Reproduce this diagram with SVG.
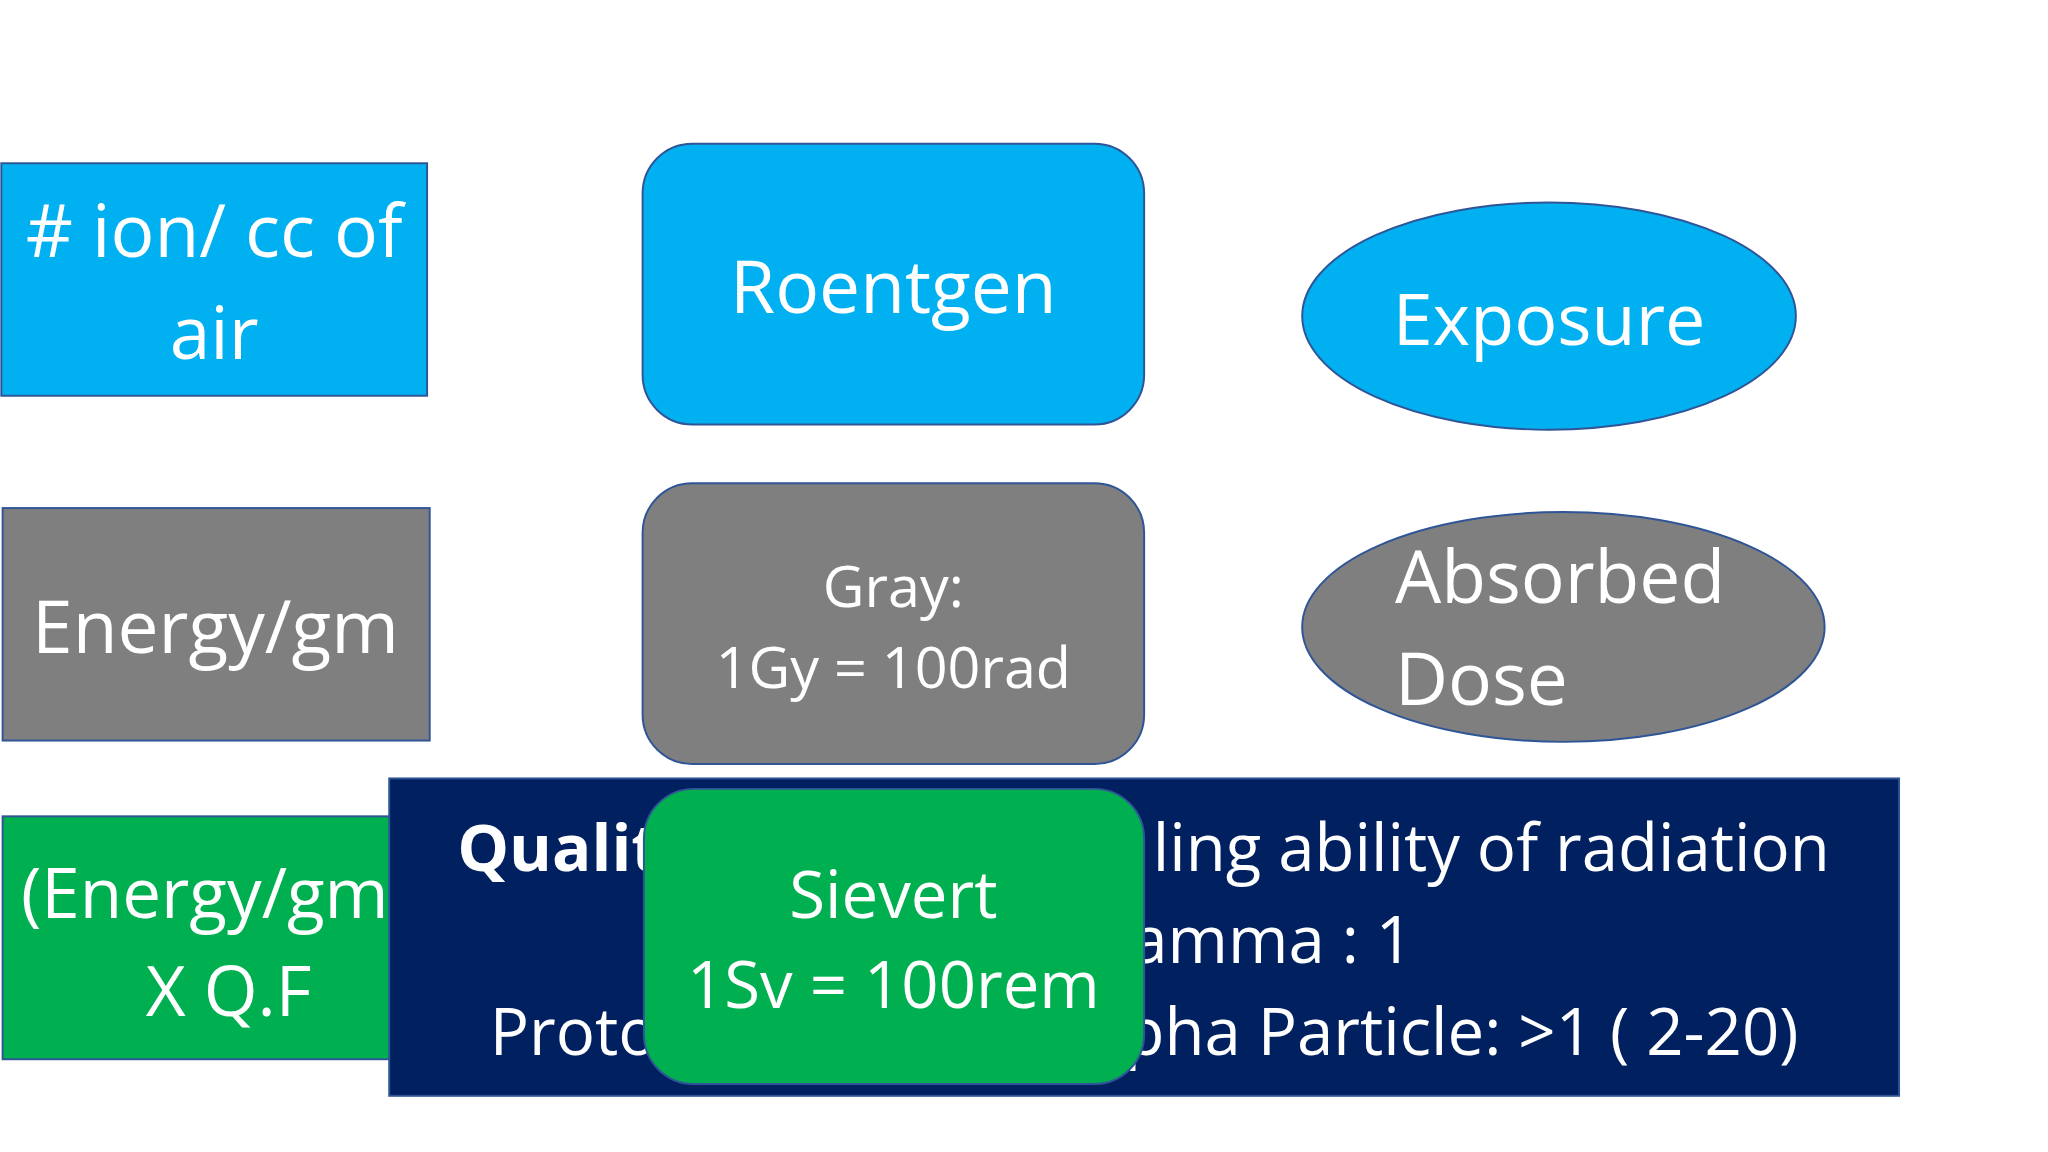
<svg xmlns="http://www.w3.org/2000/svg" width="2048" height="1152" viewBox="0 0 2048 1152">
<style>
text{font-family:"Open Sans","Noto Sans",sans-serif;fill:#fff}
.c{text-anchor:middle}
.e{text-anchor:end}
.b{fill:#00B0F0;stroke:#2F5597;stroke-width:1.5}
.g{fill:#7F7F7F;stroke:#2F5597;stroke-width:1.5}
.n{fill:#00B050;stroke:#2F5597;stroke-width:1.5}
</style>
<rect width="2048" height="1152" fill="#fff"/>
<g transform="scale(1.3061)">
<g id="ion"><rect class="b" x="1" y="125" width="326" height="178"/>
<text class="c" x="164" y="197" font-size="56">#  ion/ cc of</text><text class="c" x="164" y="275" font-size="56">air</text></g>
<g id="roentgen"><rect class="b" x="492" y="110" width="384" height="215" rx="38"/>
<text class="c" x="684" y="240" font-size="56">Roentgen</text></g>
<g id="exposure"><ellipse class="b" cx="1186" cy="242" rx="189" ry="87"/>
<text class="c" x="1186" y="264" font-size="55">Exposure</text></g>
<g id="energy"><rect class="g" x="2" y="389" width="327" height="178"/>
<text class="c" x="165" y="500" font-size="56">Energy/gm</text></g>
<g id="gray"><rect class="g" x="492" y="370" width="384" height="215" rx="38"/>
<text class="c" x="684" y="465" font-size="44">Gray:</text><text class="c" x="684" y="527" font-size="44">1Gy = 100rad</text></g>
<g id="absorbed"><ellipse class="g" cx="1197" cy="480" rx="200" ry="88"/>
<text x="1068" y="462" font-size="56">Absorbed</text><text x="1068" y="540" font-size="56">Dose</text></g>
<g id="energyqf"><rect class="n" x="2" y="625" width="310" height="186"/>
<text x="16" y="703" font-size="53">(Energy/gm)</text><text class="c" x="175" y="778" font-size="53">X Q.F</text></g>
<g id="quality"><rect x="298" y="596" width="1156" height="243" fill="#002060" stroke="#2F5597" stroke-width="1.5"/>
<text x="350" y="667" font-size="50"><tspan font-weight="bold">Quality</tspan></text>
<text class="e" x="1401" y="667" font-size="50">ling ability of radiation</text>
<text class="e" x="1082" y="737" font-size="50">Gamma : 1</text>
<text x="375" y="808" font-size="50">Proton</text>
<text class="e" x="1377" y="808" font-size="50">Alpha Particle: &gt;1 ( 2-20)</text></g>
<g id="sievert"><rect class="n" x="493" y="604" width="383" height="226" rx="38"/>
<text class="c" x="684" y="703" font-size="50">Sievert</text><text class="c" x="684" y="772" font-size="50">1Sv = 100rem</text></g>
<g id="connectors"/>
</g>
</svg>
